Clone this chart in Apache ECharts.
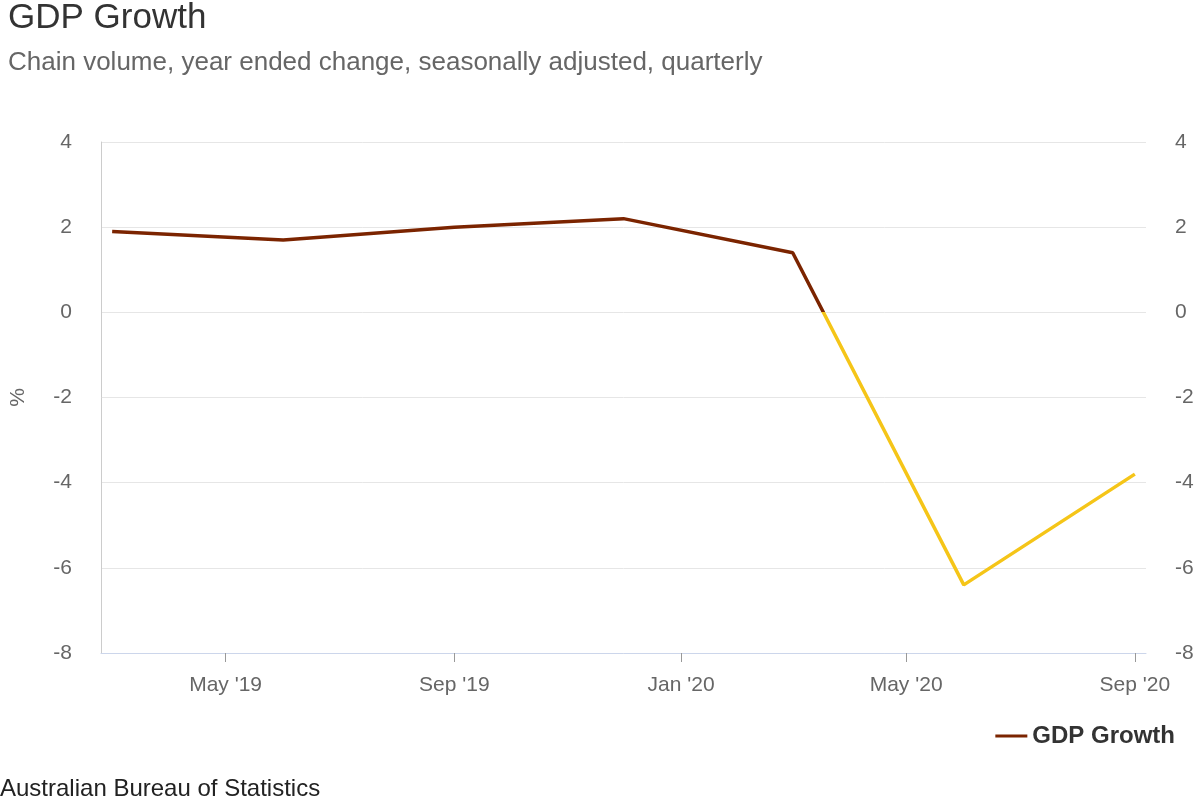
<!DOCTYPE html>
<html>
<head>
<meta charset="utf-8">
<script src="https://cdn.jsdelivr.net/npm/echarts@6/dist/echarts.min.js"></script>
<style>
  html, body { margin: 0; padding: 0; background: #fff; }
  #chart { width: 1200px; height: 800px; }
</style>
</head>
<body>
<div id="chart"></div>
<script>
// quarterly points (plotted at first day of the quarter's last month)
const dates = ['2019-03-01', '2019-06-01', '2019-09-01', '2019-12-01', '2020-03-01', '2020-06-01', '2020-09-01']
const growth = [1.9, 1.7, 2.0, 2.2, 1.4, -6.4, -3.8]
const tickDates = ['2019-05-01', '2019-09-01', '2020-01-01', '2020-05-01', '2020-09-01']
const tickLabels = ["May '19", "Sep '19", "Jan '20", "May '20", "Sep '20"]
const yTicks = [4, 2, 0, -2, -4, -6, -8]

const toTime = (s) => {
    const p = s.split('-').map(Number)
    return Date.UTC(p[0], p[1] - 1, p[2])
}
const tickTimes = tickDates.map(toTime)
const labelFor = (v) => {
    const i = tickTimes.indexOf(v)
    return i >= 0 ? tickLabels[i] : ''
}

const brown = '#7b2400'
const yellow = '#f5c518'
const font = 'Liberation Sans, Arial, sans-serif'
const yMin = yTicks[yTicks.length - 1]
const yMax = yTicks[0]

const yAxisBase = {
    type: 'value',
    min: yMin,
    max: yMax,
    interval: 2,
    axisTick: { show: false },
    axisLabel: { color: '#666', fontSize: 21, fontFamily: font, margin: 29 },
}

const option = {
    animation: false,
    title: [{
        text: 'GDP Growth',
        subtext: 'Chain volume, year ended change, seasonally adjusted, quarterly',
        left: 3,
        top: -4,
        itemGap: 14,
        textStyle: { fontSize: 35, fontWeight: 'normal', color: '#333', fontFamily: font },
        subtextStyle: { fontSize: 26, color: '#666', fontFamily: font },
    }, {
        text: 'Australian Bureau of Statistics',
        left: -5,
        bottom: -6,
        textStyle: { fontSize: 24, fontWeight: 'normal', color: '#222', fontFamily: font },
    }],
    grid: {
        left: 101,
        right: 54,
        top: 142,
        bottom: 147,
    },
    legend: {
        right: 20,
        top: 719,
        icon: 'rect',
        itemWidth: 32,
        itemHeight: 3,
        itemGap: 10,
        textStyle: { fontSize: 24, fontWeight: 'bold', color: '#333', fontFamily: font },
        data: [{ name: 'GDP Growth', itemStyle: { color: brown } }],
    },
    visualMap: {
        show: false,
        type: 'piecewise',
        dimension: 1,
        seriesIndex: 0,
        pieces: [
            { gt: 0, lte: yMax, color: brown },
            { gte: yMin, lte: 0, color: yellow },
        ],
        outOfRange: { color: brown },
    },
    xAxis: {
        type: 'value',
        min: toTime('2019-02-23'),
        max: toTime('2020-09-07'),
        axisLine: { onZero: false, lineStyle: { color: '#ccd6eb' } },
        axisTick: {
            show: true,
            customValues: tickTimes,
            length: 9,
            lineStyle: { color: '#999' },
        },
        axisLabel: {
            customValues: tickTimes,
            formatter: labelFor,
            color: '#666',
            fontSize: 21,
            fontFamily: font,
            margin: 22,
        },
        splitLine: { show: false },
    },
    yAxis: [
        Object.assign({}, yAxisBase, {
            position: 'left',
            name: '%',
            nameLocation: 'middle',
            nameGap: 72,
            nameRotate: 90,
            nameTextStyle: { color: '#666', fontSize: 21, fontFamily: font },
            axisLine: { show: true, lineStyle: { color: '#ccc' } },
            splitLine: { lineStyle: { color: '#e6e6e6' } },
        }),
        Object.assign({}, yAxisBase, {
            position: 'right',
            axisLine: { show: false },
            splitLine: { show: false },
        }),
    ],
    series: [{
        name: 'GDP Growth',
        type: 'line',
        color: brown,
        showSymbol: false,
        lineStyle: { width: 3.5 },
        data: dates.map((d, i) => [toTime(d), growth[i]]),
    }],
}

const chart = echarts.init(document.getElementById('chart'))
chart.setOption(option)
</script>
</body>
</html>
